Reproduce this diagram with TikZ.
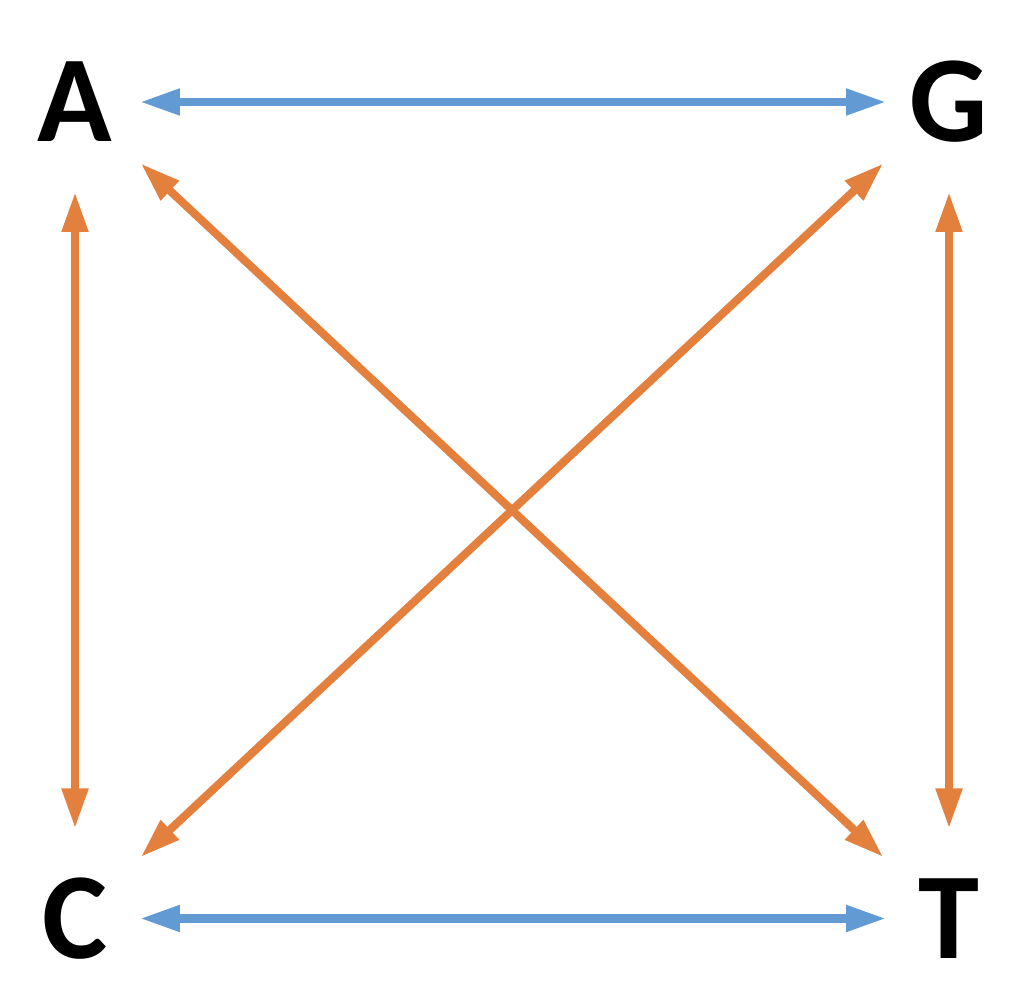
\documentclass[tikz,border=0pt]{standalone}
\usepackage{fontspec}
\setmainfont{Carlito}
\usetikzlibrary{arrows.meta}
\definecolor{arrorange}{RGB}{228,128,62}
\definecolor{arrblue}{RGB}{98,155,212}
\begin{document}
\begin{tikzpicture}[
		base/.style={font=\fontsize{35}{40}\selectfont\bfseries, inner sep=0pt},
		pair/.style={line width=2.3pt, {Triangle[length=0.4cm,width=0.25cm]}-{Triangle[length=0.4cm,width=0.25cm]}},
		purine/.style={pair, arrblue, shorten <=0.65cm, shorten >=0.63cm},
		mix/.style={pair, arrorange, shorten <=0.9cm, shorten >=0.9cm}]
	
	\useasboundingbox (0,0) rectangle (10.24,10.04);
	
	\node[base] (A) at (0.75,9.02) {A};
	\node[base] (G) at (9.49,9.02) {G};
	\node[base] (C) at (0.75,0.855) {C};
	\node[base] (T) at (9.49,0.855) {T};
	
	\draw[purine] (A.center) -- (G.center);
	\draw[purine] (C.center) -- (T.center);
	
	\draw[mix] (A.center) -- (C.center);
	\draw[mix] (G.center) -- (T.center);
	\draw[mix] (A.center) -- (T.center);
	\draw[mix] (G.center) -- (C.center);
\end{tikzpicture}
\end{document}
